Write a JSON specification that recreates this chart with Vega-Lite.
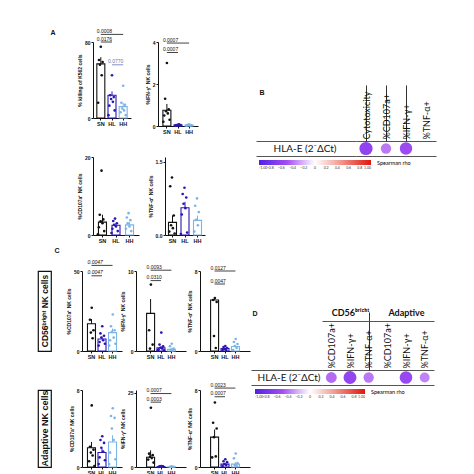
{
"$schema": "https://vega.github.io/schema/vega-lite/v6.json",
"padding": {"left": 12, "top": 28, "right": 2, "bottom": 2},
"datasets": {
"pts": [
{"c":"a1","g":"SN","k":4,"v":75},{"c":"a1","g":"SN","k":2,"v":61},{"c":"a1","g":"SN","k":6,"v":59},{"c":"a1","g":"SN","k":3,"v":56},{"c":"a1","g":"SN","k":5,"v":45},{"c":"a1","g":"SN","k":1,"v":16},
{"c":"a1","g":"HL","k":4,"v":45},{"c":"a1","g":"HL","k":2,"v":24},{"c":"a1","g":"HL","k":6,"v":22},{"c":"a1","g":"HL","k":3,"v":20},{"c":"a1","g":"HL","k":5,"v":17},{"c":"a1","g":"HL","k":1,"v":13},{"c":"a1","g":"HL","k":7,"v":8},{"c":"a1","g":"HL","k":0,"v":3},
{"c":"a1","g":"HH","k":4,"v":34},{"c":"a1","g":"HH","k":2,"v":16},{"c":"a1","g":"HH","k":6,"v":14},{"c":"a1","g":"HH","k":3,"v":10},{"c":"a1","g":"HH","k":5,"v":8},{"c":"a1","g":"HH","k":1,"v":6},{"c":"a1","g":"HH","k":7,"v":3},
{"c":"a2","g":"SN","k":4,"v":3.0},{"c":"a2","g":"SN","k":2,"v":1.3},{"c":"a2","g":"SN","k":6,"v":0.8},{"c":"a2","g":"SN","k":3,"v":0.7},{"c":"a2","g":"SN","k":5,"v":0.6},{"c":"a2","g":"SN","k":1,"v":0.5},{"c":"a2","g":"SN","k":7,"v":0.3},{"c":"a2","g":"SN","k":0,"v":0.2},
{"c":"a2","g":"HL","k":4,"v":0.06},{"c":"a2","g":"HL","k":2,"v":0.04},{"c":"a2","g":"HL","k":6,"v":0.05},{"c":"a2","g":"HL","k":3,"v":0.03},{"c":"a2","g":"HL","k":5,"v":0.08},{"c":"a2","g":"HL","k":1,"v":0.02},{"c":"a2","g":"HL","k":7,"v":0.05},
{"c":"a2","g":"HH","k":4,"v":0.07},{"c":"a2","g":"HH","k":2,"v":0.05},{"c":"a2","g":"HH","k":6,"v":0.03},{"c":"a2","g":"HH","k":3,"v":0.06},{"c":"a2","g":"HH","k":5,"v":0.04},{"c":"a2","g":"HH","k":1,"v":0.02},
{"c":"a3","g":"SN","k":4,"v":16.5},{"c":"a3","g":"SN","k":2,"v":5.2},{"c":"a3","g":"SN","k":6,"v":4.0},{"c":"a3","g":"SN","k":3,"v":3.5},{"c":"a3","g":"SN","k":5,"v":3.0},{"c":"a3","g":"SN","k":1,"v":2.0},{"c":"a3","g":"SN","k":7,"v":1.0},{"c":"a3","g":"SN","k":0,"v":0.2},
{"c":"a3","g":"HL","k":4,"v":4.2},{"c":"a3","g":"HL","k":2,"v":3.6},{"c":"a3","g":"HL","k":6,"v":3.0},{"c":"a3","g":"HL","k":3,"v":2.6},{"c":"a3","g":"HL","k":5,"v":2.2},{"c":"a3","g":"HL","k":1,"v":1.6},{"c":"a3","g":"HL","k":7,"v":1.0},{"c":"a3","g":"HL","k":0,"v":0.5},
{"c":"a3","g":"HH","k":4,"v":5.6},{"c":"a3","g":"HH","k":2,"v":4.5},{"c":"a3","g":"HH","k":6,"v":3.8},{"c":"a3","g":"HH","k":3,"v":3.0},{"c":"a3","g":"HH","k":5,"v":2.2},{"c":"a3","g":"HH","k":1,"v":1.6},{"c":"a3","g":"HH","k":7,"v":1.0},
{"c":"a4","g":"SN","k":4,"v":1.18},{"c":"a4","g":"SN","k":2,"v":1.0},{"c":"a4","g":"SN","k":6,"v":0.4},{"c":"a4","g":"SN","k":3,"v":0.2},{"c":"a4","g":"SN","k":5,"v":0.14},{"c":"a4","g":"SN","k":1,"v":0.07},{"c":"a4","g":"SN","k":7,"v":0.03},
{"c":"a4","g":"HL","k":4,"v":0.97},{"c":"a4","g":"HL","k":2,"v":0.84},{"c":"a4","g":"HL","k":6,"v":0.77},{"c":"a4","g":"HL","k":3,"v":0.64},{"c":"a4","g":"HL","k":5,"v":0.55},{"c":"a4","g":"HL","k":1,"v":0.42},{"c":"a4","g":"HL","k":7,"v":0.05},{"c":"a4","g":"HL","k":0,"v":0.02},
{"c":"a4","g":"HH","k":4,"v":0.75},{"c":"a4","g":"HH","k":2,"v":0.6},{"c":"a4","g":"HH","k":6,"v":0.47},{"c":"a4","g":"HH","k":3,"v":0.31},{"c":"a4","g":"HH","k":5,"v":0.2},{"c":"a4","g":"HH","k":1,"v":0.07},
{"c":"c1","g":"SN","k":4,"v":27},{"c":"c1","g":"SN","k":2,"v":19.5},{"c":"c1","g":"SN","k":6,"v":13},{"c":"c1","g":"SN","k":3,"v":11.5},{"c":"c1","g":"SN","k":5,"v":8},
{"c":"c1","g":"HL","k":4,"v":15.5},{"c":"c1","g":"HL","k":2,"v":11},{"c":"c1","g":"HL","k":6,"v":9.5},{"c":"c1","g":"HL","k":3,"v":8.4},{"c":"c1","g":"HL","k":5,"v":6.7},{"c":"c1","g":"HL","k":1,"v":5.6},{"c":"c1","g":"HL","k":7,"v":4.5},{"c":"c1","g":"HL","k":0,"v":3.4},
{"c":"c1","g":"HH","k":4,"v":22.8},{"c":"c1","g":"HH","k":2,"v":15.5},{"c":"c1","g":"HH","k":6,"v":13},{"c":"c1","g":"HH","k":3,"v":12},{"c":"c1","g":"HH","k":5,"v":8.4},{"c":"c1","g":"HH","k":1,"v":6.7},{"c":"c1","g":"HH","k":7,"v":4.5},{"c":"c1","g":"HH","k":0,"v":3.4},
{"c":"c2","g":"SN","k":4,"v":8.3},{"c":"c2","g":"SN","k":2,"v":2.6},{"c":"c2","g":"SN","k":6,"v":0.8},{"c":"c2","g":"SN","k":3,"v":0.3},
{"c":"c2","g":"HL","k":4,"v":2.3},{"c":"c2","g":"HL","k":2,"v":0.8},{"c":"c2","g":"HL","k":6,"v":0.6},{"c":"c2","g":"HL","k":3,"v":0.4},{"c":"c2","g":"HL","k":5,"v":0.3},{"c":"c2","g":"HL","k":1,"v":0.2},{"c":"c2","g":"HL","k":7,"v":0.1},{"c":"c2","g":"HL","k":0,"v":0.1},
{"c":"c2","g":"HH","k":4,"v":0.9},{"c":"c2","g":"HH","k":2,"v":0.6},{"c":"c2","g":"HH","k":6,"v":0.3},{"c":"c2","g":"HH","k":3,"v":0.15},{"c":"c2","g":"HH","k":5,"v":0.05},
{"c":"c3","g":"SN","k":4,"v":5.3},{"c":"c3","g":"SN","k":2,"v":5.1},{"c":"c3","g":"SN","k":6,"v":4.9},{"c":"c3","g":"SN","k":3,"v":1.5},{"c":"c3","g":"SN","k":5,"v":0.3},
{"c":"c3","g":"HL","k":4,"v":0.5},{"c":"c3","g":"HL","k":2,"v":0.4},{"c":"c3","g":"HL","k":6,"v":0.3},{"c":"c3","g":"HL","k":3,"v":0.2},{"c":"c3","g":"HL","k":5,"v":0.1},{"c":"c3","g":"HL","k":1,"v":0.1},
{"c":"c3","g":"HH","k":4,"v":1.2},{"c":"c3","g":"HH","k":2,"v":0.9},{"c":"c3","g":"HH","k":6,"v":0.7},{"c":"c3","g":"HH","k":3,"v":0.5},{"c":"c3","g":"HH","k":5,"v":0.3},{"c":"c3","g":"HH","k":1,"v":0.1},
{"c":"c4","g":"SN","k":4,"v":6.4},{"c":"c4","g":"SN","k":2,"v":2.1},{"c":"c4","g":"SN","k":6,"v":1.8},{"c":"c4","g":"SN","k":3,"v":1.5},{"c":"c4","g":"SN","k":5,"v":1.2},{"c":"c4","g":"SN","k":1,"v":0.6},{"c":"c4","g":"SN","k":7,"v":0.1},
{"c":"c4","g":"HL","k":4,"v":3.2},{"c":"c4","g":"HL","k":2,"v":2.8},{"c":"c4","g":"HL","k":6,"v":2.5},{"c":"c4","g":"HL","k":3,"v":2.0},{"c":"c4","g":"HL","k":5,"v":1.6},{"c":"c4","g":"HL","k":1,"v":1.0},{"c":"c4","g":"HL","k":7,"v":0.7},{"c":"c4","g":"HL","k":0,"v":0.3},
{"c":"c4","g":"HH","k":4,"v":6.1},{"c":"c4","g":"HH","k":2,"v":5.3},{"c":"c4","g":"HH","k":6,"v":5.1},{"c":"c4","g":"HH","k":3,"v":4.0},{"c":"c4","g":"HH","k":5,"v":2.8},{"c":"c4","g":"HH","k":1,"v":1.5},{"c":"c4","g":"HH","k":7,"v":0.8},{"c":"c4","g":"HH","k":0,"v":0.3},
{"c":"c5","g":"SN","k":4,"v":20},{"c":"c5","g":"SN","k":2,"v":4.5},{"c":"c5","g":"SN","k":6,"v":4.0},{"c":"c5","g":"SN","k":3,"v":3.5},{"c":"c5","g":"SN","k":5,"v":3.0},{"c":"c5","g":"SN","k":1,"v":2.5},{"c":"c5","g":"SN","k":7,"v":1.5},
{"c":"c5","g":"HL","k":4,"v":0.3},{"c":"c5","g":"HL","k":2,"v":0.2},{"c":"c5","g":"HL","k":6,"v":0.2},{"c":"c5","g":"HL","k":3,"v":0.1},{"c":"c5","g":"HL","k":5,"v":0.1},{"c":"c5","g":"HL","k":1,"v":0.0},
{"c":"c5","g":"HH","k":4,"v":0.2},{"c":"c5","g":"HH","k":2,"v":0.1},{"c":"c5","g":"HH","k":6,"v":0.1},{"c":"c5","g":"HH","k":3,"v":0.0},
{"c":"c6","g":"SN","k":4,"v":6.7},{"c":"c6","g":"SN","k":2,"v":4.6},{"c":"c6","g":"SN","k":6,"v":4.0},{"c":"c6","g":"SN","k":3,"v":3.1},{"c":"c6","g":"SN","k":5,"v":1.1},{"c":"c6","g":"SN","k":1,"v":1.0},
{"c":"c6","g":"HL","k":4,"v":0.8},{"c":"c6","g":"HL","k":2,"v":0.6},{"c":"c6","g":"HL","k":6,"v":0.5},{"c":"c6","g":"HL","k":3,"v":0.3},{"c":"c6","g":"HL","k":5,"v":0.2},{"c":"c6","g":"HL","k":1,"v":0.1},
{"c":"c6","g":"HH","k":4,"v":1.4},{"c":"c6","g":"HH","k":2,"v":0.9},{"c":"c6","g":"HH","k":6,"v":0.4},{"c":"c6","g":"HH","k":3,"v":0.2},{"c":"c6","g":"HH","k":5,"v":0.1}
],
"bars": [
{"c":"a1","g":"SN","m":57,"hi":64},{"c":"a1","g":"HL","m":24,"hi":28},{"c":"a1","g":"HH","m":12,"hi":16},
{"c":"a2","g":"SN","m":0.75,"hi":1.05},{"c":"a2","g":"HL","m":0.05,"hi":0.07},{"c":"a2","g":"HH","m":0.05,"hi":0.07},
{"c":"a3","g":"SN","m":3.3,"hi":5.2},{"c":"a3","g":"HL","m":2.5,"hi":3.0},{"c":"a3","g":"HH","m":2.6,"hi":3.3},
{"c":"a4","g":"SN","m":0.26,"hi":0.4},{"c":"a4","g":"HL","m":0.56,"hi":0.68},{"c":"a4","g":"HH","m":0.3,"hi":0.4},
{"c":"c1","g":"SN","m":17,"hi":20},{"c":"c1","g":"HL","m":7.5,"hi":9},{"c":"c1","g":"HH","m":11.5,"hi":14},
{"c":"c2","g":"SN","m":4.7,"hi":6.5},{"c":"c2","g":"HL","m":0.4,"hi":0.6},{"c":"c2","g":"HH","m":0.2,"hi":0.35},
{"c":"c3","g":"SN","m":5.1,"hi":5.4},{"c":"c3","g":"HL","m":0.25,"hi":0.35},{"c":"c3","g":"HH","m":0.45,"hi":0.6},
{"c":"c4","g":"SN","m":2.0,"hi":2.6},{"c":"c4","g":"HL","m":1.5,"hi":1.9},{"c":"c4","g":"HH","m":2.6,"hi":3.3},
{"c":"c5","g":"SN","m":3.3,"hi":5.6},{"c":"c5","g":"HL","m":0.15,"hi":0.2},{"c":"c5","g":"HH","m":0.1,"hi":0.15},
{"c":"c6","g":"SN","m":3.1,"hi":3.9},{"c":"c6","g":"HL","m":0.3,"hi":0.4},{"c":"c6","g":"HH","m":0.3,"hi":0.5}
],
"sig": [
{"c":"a1","g1":"SN","g2":"HH","y":88,"p":"0.0008"},{"c":"a1","g1":"SN","g2":"HL","y":80,"p":"0.0176"},{"c":"a1","g1":"HL","g2":"HH","y":56,"p":"0.0770"},
{"c":"a2","g1":"SN","g2":"HH","y":3.95,"p":"0.0007"},{"c":"a2","g1":"SN","g2":"HL","y":3.5,"p":"0.0007"},
{"c":"c1","g1":"SN","g2":"HH","y":53.5,"p":"0.0047"},{"c":"c1","g1":"SN","g2":"HL","y":47,"p":"0.0047"},
{"c":"c2","g1":"SN","g2":"HH","y":10.1,"p":"0.0093"},{"c":"c2","g1":"SN","g2":"HL","y":8.8,"p":"0.0310"},
{"c":"c3","g1":"SN","g2":"HH","y":8.0,"p":"0.0127"},{"c":"c3","g1":"SN","g2":"HL","y":6.7,"p":"0.0047"},
{"c":"c5","g1":"SN","g2":"HH","y":24.8,"p":"0.0007"},{"c":"c5","g1":"SN","g2":"HL","y":21.9,"p":"0.0003"},
{"c":"c6","g1":"SN","g2":"HH","y":8.2,"p":"0.0023"},{"c":"c6","g1":"SN","g2":"HL","y":7.3,"p":"0.0007"}
],
"corrB": [
{"row":"HLA-E (2⁻ΔCt)","col":"Cytotoxicity","rho":-0.62},
{"row":"HLA-E (2⁻ΔCt)","col":"%CD107a+","rho":-0.38},
{"row":"HLA-E (2⁻ΔCt)","col":"%IFN-γ+","rho":-0.55}
],
"corrD": [
{"row":"HLA-E (2⁻ΔCt)","col":"b|%CD107a+","rho":-0.42},
{"row":"HLA-E (2⁻ΔCt)","col":"b|%IFN-γ+","rho":-0.6},
{"row":"HLA-E (2⁻ΔCt)","col":"b|%TNF-α+","rho":-0.38},
{"row":"HLA-E (2⁻ΔCt)","col":"a|%IFN-γ+","rho":-0.57},
{"row":"HLA-E (2⁻ΔCt)","col":"a|%TNF-α+","rho":-0.35}
],
"grpD": [{"grp":"CD56ᵇʳⁱᵍʰᵗ"},{"grp":"Adaptive"}]
},
"spacing": 2,
"resolve": {"scale": {"fill": "independent"}, "legend": {"fill": "independent"}},
"vconcat": [
{
"spacing": 0,
"resolve": {"scale": {"fill": "independent"}, "legend": {"fill": "independent"}},
"hconcat": [
{"width": 38, "height": 5, "data": {"values": [{"s": 0}]}, "mark": {"type": "point", "opacity": 0}, "encoding": {}, "view": {"fill": "transparent", "stroke": null}},
{
"spacing": 50,
"resolve": {"scale": {"fill": "independent"}, "legend": {"fill": "independent"}},
"hconcat": [
{
"title": {"text": "A", "dx": -27, "dy": 7, "offset": 0},
"spacing": 20,
"vconcat": [
{"spacing": 14, "hconcat": [
{"width": 38, "height": 76, "layer": [
{"data": {"name": "bars"}, "transform": [{"filter": "datum.c==='a1'"}], "mark": {"type": "bar", "fill": "white", "strokeWidth": 1.1, "width": 8},
 "encoding": {"x": {"field": "g", "type": "nominal", "scale": {"domain": ["SN","HL","HH"], "paddingInner": 0.2, "paddingOuter": 0.3}, "axis": {"title": null, "labelAngle": 0}},
  "y": {"field": "m", "type": "quantitative", "scale": {"domain": [0, 80]}, "axis": {"values": [0,20,40,60,80], "title": "% killing of K562 cells"}},
  "stroke": {"field": "g", "type": "nominal", "scale": {"domain": ["SN","HL","HH"], "range": ["#111111","#2a16b4","#7db4e6"]}, "legend": null}}},
{"data": {"name": "bars"}, "transform": [{"filter": "datum.c==='a1'"}], "mark": {"type": "rule", "strokeWidth": 1},
 "encoding": {"x": {"field": "g", "type": "nominal"}, "y": {"field": "m", "type": "quantitative"}, "y2": {"field": "hi"},
  "color": {"field": "g", "type": "nominal", "scale": {"domain": ["SN","HL","HH"], "range": ["#111111","#2a16b4","#7db4e6"]}, "legend": null}}},
{"data": {"name": "pts"}, "transform": [{"filter": "datum.c==='a1'"}], "mark": {"type": "circle", "size": 7, "opacity": 1},
 "encoding": {"x": {"field": "g", "type": "nominal"}, "xOffset": {"field": "k", "type": "nominal", "scale": {"domain": [0,1,2,3,4,5,6,7,8], "paddingOuter": 1}}, "y": {"field": "v", "type": "quantitative"}, "color": {"field": "g", "type": "nominal", "legend": null}}},
{"data": {"name": "sig"}, "transform": [{"filter": "datum.c==='a1'"}], "mark": {"type": "rule", "strokeWidth": 0.8},
 "encoding": {"x": {"field": "g1", "type": "nominal"}, "x2": {"field": "g2"}, "y": {"field": "y", "type": "quantitative"}, "color": {"condition": {"test": "toNumber(datum.p)>0.05", "value": "#5f77b5"}, "value": "#111111"}}},
{"data": {"name": "sig"}, "transform": [{"filter": "datum.c==='a1'"}], "mark": {"type": "text", "align": "left", "baseline": "bottom", "dx": -4, "dy": -0.5, "fontSize": 5},
 "encoding": {"x": {"field": "g1", "type": "nominal"}, "y": {"field": "y", "type": "quantitative"}, "text": {"field": "p"}, "color": {"condition": {"test": "toNumber(datum.p)>0.05", "value": "#5f77b5"}, "value": "#111111"}}}
]},
{"width": 40, "height": 84, "layer": [
{"data": {"name": "bars"}, "transform": [{"filter": "datum.c==='a2'"}], "mark": {"type": "bar", "fill": "white", "strokeWidth": 1.1, "width": 8},
 "encoding": {"x": {"field": "g", "type": "nominal", "scale": {"domain": ["SN","HL","HH"], "paddingInner": 0.2, "paddingOuter": 0.4}, "axis": {"title": null, "labelAngle": 0}},
  "y": {"field": "m", "type": "quantitative", "scale": {"domain": [0, 4]}, "axis": {"values": [0,1,2,3,4], "title": "%IFN-γ⁺ NK cells"}},
  "stroke": {"field": "g", "type": "nominal", "scale": {"domain": ["SN","HL","HH"], "range": ["#111111","#2a16b4","#7db4e6"]}, "legend": null}}},
{"data": {"name": "bars"}, "transform": [{"filter": "datum.c==='a2'"}], "mark": {"type": "rule", "strokeWidth": 1},
 "encoding": {"x": {"field": "g", "type": "nominal"}, "y": {"field": "m", "type": "quantitative"}, "y2": {"field": "hi"},
  "color": {"field": "g", "type": "nominal", "scale": {"domain": ["SN","HL","HH"], "range": ["#111111","#2a16b4","#7db4e6"]}, "legend": null}}},
{"data": {"name": "pts"}, "transform": [{"filter": "datum.c==='a2'"}], "mark": {"type": "circle", "size": 7, "opacity": 1},
 "encoding": {"x": {"field": "g", "type": "nominal"}, "xOffset": {"field": "k", "type": "nominal", "scale": {"domain": [0,1,2,3,4,5,6,7,8], "paddingOuter": 1}}, "y": {"field": "v", "type": "quantitative"}, "color": {"field": "g", "type": "nominal", "legend": null}}},
{"data": {"name": "sig"}, "transform": [{"filter": "datum.c==='a2'"}], "mark": {"type": "rule", "strokeWidth": 0.8},
 "encoding": {"x": {"field": "g1", "type": "nominal"}, "x2": {"field": "g2"}, "y": {"field": "y", "type": "quantitative"}, "color": {"value": "#111111"}}},
{"data": {"name": "sig"}, "transform": [{"filter": "datum.c==='a2'"}], "mark": {"type": "text", "align": "left", "baseline": "bottom", "dx": -4, "dy": -0.5, "fontSize": 5},
 "encoding": {"x": {"field": "g1", "type": "nominal"}, "y": {"field": "y", "type": "quantitative"}, "text": {"field": "p"}, "color": {"value": "#111111"}}}
]}
]},
{"spacing": 9, "hconcat": [
{"width": 46, "height": 78, "layer": [
{"data": {"name": "bars"}, "transform": [{"filter": "datum.c==='a3'"}], "mark": {"type": "bar", "fill": "white", "strokeWidth": 1.1, "width": 8},
 "encoding": {"x": {"field": "g", "type": "nominal", "scale": {"domain": ["SN","HL","HH"], "paddingInner": 0.2, "paddingOuter": 0.3}, "axis": {"title": null, "labelAngle": 0}},
  "y": {"field": "m", "type": "quantitative", "scale": {"domain": [0, 20]}, "axis": {"values": [0,5,10,15,20], "title": "%CD107a⁺ NK cells"}},
  "stroke": {"field": "g", "type": "nominal", "scale": {"domain": ["SN","HL","HH"], "range": ["#111111","#2a16b4","#7db4e6"]}, "legend": null}}},
{"data": {"name": "bars"}, "transform": [{"filter": "datum.c==='a3'"}], "mark": {"type": "rule", "strokeWidth": 1},
 "encoding": {"x": {"field": "g", "type": "nominal"}, "y": {"field": "m", "type": "quantitative"}, "y2": {"field": "hi"},
  "color": {"field": "g", "type": "nominal", "scale": {"domain": ["SN","HL","HH"], "range": ["#111111","#2a16b4","#7db4e6"]}, "legend": null}}},
{"data": {"name": "pts"}, "transform": [{"filter": "datum.c==='a3'"}], "mark": {"type": "circle", "size": 7, "opacity": 1},
 "encoding": {"x": {"field": "g", "type": "nominal"}, "xOffset": {"field": "k", "type": "nominal", "scale": {"domain": [0,1,2,3,4,5,6,7,8], "paddingOuter": 1}}, "y": {"field": "v", "type": "quantitative"}, "color": {"field": "g", "type": "nominal", "legend": null}}}
]},
{"width": 40, "height": 78, "layer": [
{"data": {"name": "bars"}, "transform": [{"filter": "datum.c==='a4'"}], "mark": {"type": "bar", "fill": "white", "strokeWidth": 1.1, "width": 8},
 "encoding": {"x": {"field": "g", "type": "nominal", "scale": {"domain": ["SN","HL","HH"], "paddingInner": 0.2, "paddingOuter": 0.2}, "axis": {"title": null, "labelAngle": 0}},
  "y": {"field": "m", "type": "quantitative", "scale": {"domain": [0, 1.5]}, "axis": {"values": [0,0.5,1,1.5], "format": ".1f", "title": "%TNF-α⁺ NK cells"}},
  "stroke": {"field": "g", "type": "nominal", "scale": {"domain": ["SN","HL","HH"], "range": ["#111111","#2a16b4","#7db4e6"]}, "legend": null}}},
{"data": {"name": "bars"}, "transform": [{"filter": "datum.c==='a4'"}], "mark": {"type": "rule", "strokeWidth": 1},
 "encoding": {"x": {"field": "g", "type": "nominal"}, "y": {"field": "m", "type": "quantitative"}, "y2": {"field": "hi"},
  "color": {"field": "g", "type": "nominal", "scale": {"domain": ["SN","HL","HH"], "range": ["#111111","#2a16b4","#7db4e6"]}, "legend": null}}},
{"data": {"name": "pts"}, "transform": [{"filter": "datum.c==='a4'"}], "mark": {"type": "circle", "size": 7, "opacity": 1},
 "encoding": {"x": {"field": "g", "type": "nominal"}, "xOffset": {"field": "k", "type": "nominal", "scale": {"domain": [0,1,2,3,4,5,6,7,8], "paddingOuter": 1}}, "y": {"field": "v", "type": "quantitative"}, "color": {"field": "g", "type": "nominal", "legend": null}}}
]}
]}
]
},
{
"spacing": 0,
"resolve": {"scale": {"fill": "independent"}, "legend": {"fill": "independent"}},
"vconcat": [
{"width": 5, "height": 42, "data": {"values": [{"s": 0}]}, "mark": {"type": "point", "opacity": 0}, "encoding": {}, "view": {"fill": "transparent", "stroke": null}},
{"width": 80, "height": 15, "data": {"name": "corrB"},
 "title": {"text": "B", "dx": 4, "dy": 11, "offset": 0},
 "mark": {"type": "circle", "opacity": 1},
 "encoding": {
  "x": {"field": "col", "type": "nominal", "scale": {"domain": ["Cytotoxicity","%CD107a+","%IFN-γ+","%TNF-α+"], "paddingInner": 0, "paddingOuter": 0},
   "axis": {"orient": "top", "title": null, "labelAngle": -90, "labelAlign": "left", "labelBaseline": "middle", "labelFont": "Lato", "labelFontWeight": "normal", "labelFontSize": 9, "domain": false, "bandPosition": 1, "tickSize": 56, "tickWidth": 1, "tickColor": {"condition": {"test": "datum.value==='%TNF-α+'", "value": "transparent"}, "value": "#333333"}, "labelPadding": -54}},
  "y": {"field": "row", "type": "nominal", "axis": {"title": null, "domain": false, "tickBand": "extent", "tickSize": 100, "tickColor": "#555555", "tickWidth": 1.2, "grid": true, "gridColor": "#555555", "gridWidth": 1.2, "labelPadding": -80, "labelFont": "Lato", "labelFontWeight": "normal", "labelFontSize": 10, "labelAngle": 0}},
  "fill": {"field": "rho", "type": "quantitative", "scale": {"domain": [-1,-0.5,0,0.5,1], "range": ["#4f22e4","#a44ef2","#ffffff","#f08e84","#e0160e"], "interpolate": "rgb"},
   "legend": {"orient": "none", "legendX": -97, "legendY": 19, "direction": "horizontal", "gradientLength": 112, "gradientThickness": 5, "gradientStrokeWidth": 0, "title": "Spearman rho", "titleOrient": "right", "titleFont": "Lato", "titleFontSize": 5.5, "titleFontWeight": "normal", "titlePadding": 6, "labelFont": "Lato", "labelFontSize": 3.5, "labelAlign": "center", "labelColor": "#333333", "labelOffset": 1, "labelOverlap": false, "values": [-1,-0.8,-0.6,-0.4,-0.2,0,0.2,0.4,0.6,0.8,1], "labelExpr": "datum.value===-1?'-1.00':datum.value===1?'1.00':datum.value===0?'0':format(datum.value,'.1f')"}},
  "size": {"field": "rho", "type": "quantitative", "scale": {"domain": [-1, 0], "range": [280, 0]}, "legend": null}
 }}
]
}
]
}
]
},
{
"spacing": 0,
"resolve": {"scale": {"fill": "independent"}, "legend": {"fill": "independent"}},
"hconcat": [
{"width": 25, "height": 5, "data": {"values": [{"s": 0}]}, "mark": {"type": "point", "opacity": 0}, "encoding": {}, "view": {"fill": "transparent", "stroke": null}},
{
"title": {"text": "C", "dx": 17, "offset": 6},
"spacing": 22,
"vconcat": [
{"spacing": 14, "bounds": "flush", "hconcat": [
{"width": 13, "height": 80, "data": {"values": [{"t": "CD56ᵇʳⁱᵍʰᵗ NK cells"}]}, "mark": {"type": "text", "angle": 270, "fontSize": 8.5, "fontWeight": "bold", "font": "Liberation Sans", "color": "#111111"}, "encoding": {"text": {"field": "t"}}, "view": {"stroke": "#111111", "strokeWidth": 1.2}},
{"width": 3, "height": 10, "data": {"values": [{"s": 0}]}, "mark": {"type": "point", "opacity": 0}, "encoding": {}},
{"width": 40, "height": 80, "layer": [
{"data": {"name": "bars"}, "transform": [{"filter": "datum.c==='c1'"}], "mark": {"type": "bar", "fill": "white", "strokeWidth": 1.1, "width": 8},
 "encoding": {"x": {"field": "g", "type": "nominal", "scale": {"domain": ["SN","HL","HH"], "paddingInner": 0.2, "paddingOuter": 0.5}, "axis": {"title": null, "labelAngle": 0}},
  "y": {"field": "m", "type": "quantitative", "scale": {"domain": [0, 50]}, "axis": {"values": [0,10,20,30,40,50], "title": "%CD107a⁺ NK cells"}},
  "stroke": {"field": "g", "type": "nominal", "scale": {"domain": ["SN","HL","HH"], "range": ["#111111","#2a16b4","#7db4e6"]}, "legend": null}}},
{"data": {"name": "bars"}, "transform": [{"filter": "datum.c==='c1'"}], "mark": {"type": "rule", "strokeWidth": 1},
 "encoding": {"x": {"field": "g", "type": "nominal"}, "y": {"field": "m", "type": "quantitative"}, "y2": {"field": "hi"},
  "color": {"field": "g", "type": "nominal", "scale": {"domain": ["SN","HL","HH"], "range": ["#111111","#2a16b4","#7db4e6"]}, "legend": null}}},
{"data": {"name": "pts"}, "transform": [{"filter": "datum.c==='c1'"}], "mark": {"type": "circle", "size": 7, "opacity": 1},
 "encoding": {"x": {"field": "g", "type": "nominal"}, "xOffset": {"field": "k", "type": "nominal", "scale": {"domain": [0,1,2,3,4,5,6,7,8], "paddingOuter": 1}}, "y": {"field": "v", "type": "quantitative"}, "color": {"field": "g", "type": "nominal", "legend": null}}},
{"data": {"name": "sig"}, "transform": [{"filter": "datum.c==='c1'"}], "mark": {"type": "rule", "strokeWidth": 0.8},
 "encoding": {"x": {"field": "g1", "type": "nominal"}, "x2": {"field": "g2"}, "y": {"field": "y", "type": "quantitative"}, "color": {"value": "#111111"}}},
{"data": {"name": "sig"}, "transform": [{"filter": "datum.c==='c1'"}], "mark": {"type": "text", "align": "left", "baseline": "bottom", "dx": -4, "dy": -0.5, "fontSize": 5, "fontStyle": "italic"},
 "encoding": {"x": {"field": "g1", "type": "nominal"}, "y": {"field": "y", "type": "quantitative"}, "text": {"field": "p"}, "color": {"value": "#111111"}}}
]},
{"width": 50, "height": 80, "layer": [
{"data": {"name": "bars"}, "transform": [{"filter": "datum.c==='c2'"}], "mark": {"type": "bar", "fill": "white", "strokeWidth": 1.1, "width": 8},
 "encoding": {"x": {"field": "g", "type": "nominal", "scale": {"domain": ["SN","HL","HH"], "paddingInner": 0.2, "paddingOuter": 1.1}, "axis": {"title": null, "labelAngle": 0}},
  "y": {"field": "m", "type": "quantitative", "scale": {"domain": [0, 10]}, "axis": {"values": [0,2,4,6,8,10], "title": "%IFN-γ⁺ NK cells"}},
  "stroke": {"field": "g", "type": "nominal", "scale": {"domain": ["SN","HL","HH"], "range": ["#111111","#2a16b4","#7db4e6"]}, "legend": null}}},
{"data": {"name": "bars"}, "transform": [{"filter": "datum.c==='c2'"}], "mark": {"type": "rule", "strokeWidth": 1},
 "encoding": {"x": {"field": "g", "type": "nominal"}, "y": {"field": "m", "type": "quantitative"}, "y2": {"field": "hi"},
  "color": {"field": "g", "type": "nominal", "scale": {"domain": ["SN","HL","HH"], "range": ["#111111","#2a16b4","#7db4e6"]}, "legend": null}}},
{"data": {"name": "pts"}, "transform": [{"filter": "datum.c==='c2'"}], "mark": {"type": "circle", "size": 7, "opacity": 1},
 "encoding": {"x": {"field": "g", "type": "nominal"}, "xOffset": {"field": "k", "type": "nominal", "scale": {"domain": [0,1,2,3,4,5,6,7,8], "paddingOuter": 1}}, "y": {"field": "v", "type": "quantitative"}, "color": {"field": "g", "type": "nominal", "legend": null}}},
{"data": {"name": "sig"}, "transform": [{"filter": "datum.c==='c2'"}], "mark": {"type": "rule", "strokeWidth": 0.8},
 "encoding": {"x": {"field": "g1", "type": "nominal"}, "x2": {"field": "g2"}, "y": {"field": "y", "type": "quantitative"}, "color": {"value": "#111111"}}},
{"data": {"name": "sig"}, "transform": [{"filter": "datum.c==='c2'"}], "mark": {"type": "text", "align": "left", "baseline": "bottom", "dx": -4, "dy": -0.5, "fontSize": 5},
 "encoding": {"x": {"field": "g1", "type": "nominal"}, "y": {"field": "y", "type": "quantitative"}, "text": {"field": "p"}, "color": {"value": "#111111"}}}
]},
{"width": 50, "height": 80, "layer": [
{"data": {"name": "bars"}, "transform": [{"filter": "datum.c==='c3'"}], "mark": {"type": "bar", "fill": "white", "strokeWidth": 1.1, "width": 8},
 "encoding": {"x": {"field": "g", "type": "nominal", "scale": {"domain": ["SN","HL","HH"], "paddingInner": 0.2, "paddingOuter": 1.1}, "axis": {"title": null, "labelAngle": 0}},
  "y": {"field": "m", "type": "quantitative", "scale": {"domain": [0, 8]}, "axis": {"values": [0,2,4,6,8], "title": "%TNF-α⁺ NK cells"}},
  "stroke": {"field": "g", "type": "nominal", "scale": {"domain": ["SN","HL","HH"], "range": ["#111111","#2a16b4","#7db4e6"]}, "legend": null}}},
{"data": {"name": "bars"}, "transform": [{"filter": "datum.c==='c3'"}], "mark": {"type": "rule", "strokeWidth": 1},
 "encoding": {"x": {"field": "g", "type": "nominal"}, "y": {"field": "m", "type": "quantitative"}, "y2": {"field": "hi"},
  "color": {"field": "g", "type": "nominal", "scale": {"domain": ["SN","HL","HH"], "range": ["#111111","#2a16b4","#7db4e6"]}, "legend": null}}},
{"data": {"name": "pts"}, "transform": [{"filter": "datum.c==='c3'"}], "mark": {"type": "circle", "size": 7, "opacity": 1},
 "encoding": {"x": {"field": "g", "type": "nominal"}, "xOffset": {"field": "k", "type": "nominal", "scale": {"domain": [0,1,2,3,4,5,6,7,8], "paddingOuter": 1}}, "y": {"field": "v", "type": "quantitative"}, "color": {"field": "g", "type": "nominal", "legend": null}}},
{"data": {"name": "sig"}, "transform": [{"filter": "datum.c==='c3'"}], "mark": {"type": "rule", "strokeWidth": 0.8},
 "encoding": {"x": {"field": "g1", "type": "nominal"}, "x2": {"field": "g2"}, "y": {"field": "y", "type": "quantitative"}, "color": {"value": "#111111"}}},
{"data": {"name": "sig"}, "transform": [{"filter": "datum.c==='c3'"}], "mark": {"type": "text", "align": "left", "baseline": "bottom", "dx": -4, "dy": -0.5, "fontSize": 5},
 "encoding": {"x": {"field": "g1", "type": "nominal"}, "y": {"field": "y", "type": "quantitative"}, "text": {"field": "p"}, "color": {"value": "#111111"}}}
]}
]},
{"spacing": 14, "bounds": "flush", "hconcat": [
{"width": 13, "height": 77, "data": {"values": [{"t": "Adaptive NK cells"}]}, "mark": {"type": "text", "angle": 270, "fontSize": 9, "fontWeight": "bold", "font": "Liberation Sans", "color": "#111111"}, "encoding": {"text": {"field": "t"}}, "view": {"stroke": "#111111", "strokeWidth": 1.2}},
{"width": 3, "height": 10, "data": {"values": [{"s": 0}]}, "mark": {"type": "point", "opacity": 0}, "encoding": {}},
{"width": 40, "height": 77, "layer": [
{"data": {"name": "bars"}, "transform": [{"filter": "datum.c==='c4'"}], "mark": {"type": "bar", "fill": "white", "strokeWidth": 1.1, "width": 8},
 "encoding": {"x": {"field": "g", "type": "nominal", "scale": {"domain": ["SN","HL","HH"], "paddingInner": 0.2, "paddingOuter": 0.5}, "axis": {"title": null, "labelAngle": 0}},
  "y": {"field": "m", "type": "quantitative", "scale": {"domain": [0, 8]}, "axis": {"values": [0,2,4,6,8], "title": "%CD107a⁺ NK cells"}},
  "stroke": {"field": "g", "type": "nominal", "scale": {"domain": ["SN","HL","HH"], "range": ["#111111","#2a16b4","#7db4e6"]}, "legend": null}}},
{"data": {"name": "bars"}, "transform": [{"filter": "datum.c==='c4'"}], "mark": {"type": "rule", "strokeWidth": 1},
 "encoding": {"x": {"field": "g", "type": "nominal"}, "y": {"field": "m", "type": "quantitative"}, "y2": {"field": "hi"},
  "color": {"field": "g", "type": "nominal", "scale": {"domain": ["SN","HL","HH"], "range": ["#111111","#2a16b4","#7db4e6"]}, "legend": null}}},
{"data": {"name": "pts"}, "transform": [{"filter": "datum.c==='c4'"}], "mark": {"type": "circle", "size": 7, "opacity": 1},
 "encoding": {"x": {"field": "g", "type": "nominal"}, "xOffset": {"field": "k", "type": "nominal", "scale": {"domain": [0,1,2,3,4,5,6,7,8], "paddingOuter": 1}}, "y": {"field": "v", "type": "quantitative"}, "color": {"field": "g", "type": "nominal", "legend": null}}}
]},
{"width": 50, "height": 77, "layer": [
{"data": {"name": "bars"}, "transform": [{"filter": "datum.c==='c5'"}], "mark": {"type": "bar", "fill": "white", "strokeWidth": 1.1, "width": 8},
 "encoding": {"x": {"field": "g", "type": "nominal", "scale": {"domain": ["SN","HL","HH"], "paddingInner": 0.2, "paddingOuter": 1.1}, "axis": {"title": null, "labelAngle": 0}},
  "y": {"field": "m", "type": "quantitative", "scale": {"domain": [0, 25]}, "axis": {"values": [0,5,10,15,20,25], "title": "%IFN-γ⁺ NK cells"}},
  "stroke": {"field": "g", "type": "nominal", "scale": {"domain": ["SN","HL","HH"], "range": ["#111111","#2a16b4","#7db4e6"]}, "legend": null}}},
{"data": {"name": "bars"}, "transform": [{"filter": "datum.c==='c5'"}], "mark": {"type": "rule", "strokeWidth": 1},
 "encoding": {"x": {"field": "g", "type": "nominal"}, "y": {"field": "m", "type": "quantitative"}, "y2": {"field": "hi"},
  "color": {"field": "g", "type": "nominal", "scale": {"domain": ["SN","HL","HH"], "range": ["#111111","#2a16b4","#7db4e6"]}, "legend": null}}},
{"data": {"name": "pts"}, "transform": [{"filter": "datum.c==='c5'"}], "mark": {"type": "circle", "size": 7, "opacity": 1},
 "encoding": {"x": {"field": "g", "type": "nominal"}, "xOffset": {"field": "k", "type": "nominal", "scale": {"domain": [0,1,2,3,4,5,6,7,8], "paddingOuter": 1}}, "y": {"field": "v", "type": "quantitative"}, "color": {"field": "g", "type": "nominal", "legend": null}}},
{"data": {"name": "sig"}, "transform": [{"filter": "datum.c==='c5'"}], "mark": {"type": "rule", "strokeWidth": 0.8},
 "encoding": {"x": {"field": "g1", "type": "nominal"}, "x2": {"field": "g2"}, "y": {"field": "y", "type": "quantitative"}, "color": {"value": "#111111"}}},
{"data": {"name": "sig"}, "transform": [{"filter": "datum.c==='c5'"}], "mark": {"type": "text", "align": "left", "baseline": "bottom", "dx": -4, "dy": -0.5, "fontSize": 5},
 "encoding": {"x": {"field": "g1", "type": "nominal"}, "y": {"field": "y", "type": "quantitative"}, "text": {"field": "p"}, "color": {"value": "#111111"}}}
]},
{"width": 50, "height": 77, "layer": [
{"data": {"name": "bars"}, "transform": [{"filter": "datum.c==='c6'"}], "mark": {"type": "bar", "fill": "white", "strokeWidth": 1.1, "width": 8},
 "encoding": {"x": {"field": "g", "type": "nominal", "scale": {"domain": ["SN","HL","HH"], "paddingInner": 0.2, "paddingOuter": 1.1}, "axis": {"title": null, "labelAngle": 0}},
  "y": {"field": "m", "type": "quantitative", "scale": {"domain": [0, 8]}, "axis": {"values": [0,2,4,6,8], "title": "%TNF-α⁺ NK cells"}},
  "stroke": {"field": "g", "type": "nominal", "scale": {"domain": ["SN","HL","HH"], "range": ["#111111","#2a16b4","#7db4e6"]}, "legend": null}}},
{"data": {"name": "bars"}, "transform": [{"filter": "datum.c==='c6'"}], "mark": {"type": "rule", "strokeWidth": 1},
 "encoding": {"x": {"field": "g", "type": "nominal"}, "y": {"field": "m", "type": "quantitative"}, "y2": {"field": "hi"},
  "color": {"field": "g", "type": "nominal", "scale": {"domain": ["SN","HL","HH"], "range": ["#111111","#2a16b4","#7db4e6"]}, "legend": null}}},
{"data": {"name": "pts"}, "transform": [{"filter": "datum.c==='c6'"}], "mark": {"type": "circle", "size": 7, "opacity": 1},
 "encoding": {"x": {"field": "g", "type": "nominal"}, "xOffset": {"field": "k", "type": "nominal", "scale": {"domain": [0,1,2,3,4,5,6,7,8], "paddingOuter": 1}}, "y": {"field": "v", "type": "quantitative"}, "color": {"field": "g", "type": "nominal", "legend": null}}},
{"data": {"name": "sig"}, "transform": [{"filter": "datum.c==='c6'"}], "mark": {"type": "rule", "strokeWidth": 0.8},
 "encoding": {"x": {"field": "g1", "type": "nominal"}, "x2": {"field": "g2"}, "y": {"field": "y", "type": "quantitative"}, "color": {"value": "#111111"}}},
{"data": {"name": "sig"}, "transform": [{"filter": "datum.c==='c6'"}], "mark": {"type": "text", "align": "left", "baseline": "bottom", "dx": -4, "dy": -0.5, "fontSize": 5},
 "encoding": {"x": {"field": "g1", "type": "nominal"}, "y": {"field": "y", "type": "quantitative"}, "text": {"field": "p"}, "color": {"value": "#111111"}}}
]}
]}
]
},
{
"spacing": 0,
"resolve": {"scale": {"fill": "independent"}, "legend": {"fill": "independent"}},
"vconcat": [
{"width": 5, "height": 37, "data": {"values": [{"s": 0}]}, "mark": {"type": "point", "opacity": 0}, "encoding": {}, "view": {"fill": "transparent", "stroke": null}},
{"width": 112, "height": 15,
 "title": {"text": "D", "dx": 2, "dy": 8.5, "offset": 0},
 "layer": [
 {"data": {"name": "corrD"}, "mark": {"type": "circle", "opacity": 1},
  "encoding": {
   "x": {"field": "col", "type": "nominal", "scale": {"domain": ["b|%CD107a+","b|%IFN-γ+","b|%TNF-α+","a|%CD107a+","a|%IFN-γ+","a|%TNF-α+"], "paddingInner": 0, "paddingOuter": 0},
    "axis": {"orient": "top", "title": null, "labelExpr": "split(datum.label,'|')[1]", "labelAngle": -90, "labelAlign": "left", "labelBaseline": "middle", "labelFont": "Lato", "labelFontWeight": "normal", "labelFontSize": 9, "domain": false, "bandPosition": 1, "tickSize": 58, "tickWidth": 1, "tickColor": {"condition": {"test": "datum.value==='b|%TNF-α+'", "value": "#333333"}, "value": "transparent"}, "labelPadding": -56}},
   "y": {"field": "row", "type": "nominal", "axis": {"title": null, "domain": false, "tickBand": "extent", "tickSize": 71, "tickColor": "#555555", "tickWidth": 1.2, "grid": true, "gridColor": "#555555", "gridWidth": 1.2, "labelPadding": -69, "labelFont": "Lato", "labelFontWeight": "normal", "labelFontSize": 10, "labelAngle": 0}},
   "fill": {"field": "rho", "type": "quantitative", "scale": {"domain": [-1,-0.5,0,0.5,1], "range": ["#4f22e4","#a44ef2","#ffffff","#f08e84","#e0160e"], "interpolate": "rgb"},
    "legend": {"orient": "none", "legendX": -67, "legendY": 19, "direction": "horizontal", "gradientLength": 110, "gradientThickness": 5, "gradientStrokeWidth": 0, "title": "Spearman rho", "titleOrient": "right", "titleFont": "Lato", "titleFontSize": 5.5, "titleFontWeight": "normal", "titlePadding": 6, "labelFont": "Lato", "labelFontSize": 3.5, "labelAlign": "center", "labelColor": "#333333", "labelOffset": 1, "labelOverlap": false, "values": [-1,-0.8,-0.6,-0.4,-0.2,0,0.2,0.4,0.6,0.8,1], "labelExpr": "datum.value===-1?'-1.00':datum.value===1?'1.00':datum.value===0?'0':format(datum.value,'.1f')"}},
   "size": {"field": "rho", "type": "quantitative", "scale": {"domain": [-1, 0], "range": [280, 0]}, "legend": null}
  }},
 {"data": {"name": "grpD"}, "mark": {"type": "point", "opacity": 0},
  "encoding": {"x": {"field": "grp", "type": "nominal", "scale": {"domain": ["CD56ᵇʳⁱᵍʰᵗ","Adaptive"], "paddingInner": 0, "paddingOuter": 0},
   "axis": {"orient": "top", "title": null, "offset": 49, "ticks": false, "domain": true, "domainColor": "#555555", "domainWidth": 1.2, "labelAngle": 0, "labelFont": "Lato", "labelFontWeight": "bold", "labelFontSize": 9, "labelPadding": 4}}}}
 ],
 "resolve": {"scale": {"x": "independent"}, "axis": {"x": "independent"}}
}
]
}
]
}
],
"config": {
 "font": "Liberation Sans",
 "view": {"stroke": null},
 "axis": {"labelFont": "Liberation Sans", "titleFont": "Liberation Sans", "labelFontSize": 5, "labelFontWeight": "bold", "titleFontSize": 5, "titleFontWeight": "bold", "labelColor": "#111111", "titleColor": "#111111", "domainColor": "#111111", "tickColor": "#111111", "tickSize": 2, "labelPadding": 1, "titlePadding": 2, "grid": false, "domainWidth": 1, "tickWidth": 1},
 "axisX": {"labelFontSize": 5.5},
 "title": {"font": "Liberation Sans", "fontSize": 7, "fontWeight": "bold", "color": "#111111", "anchor": "start"}
}
}
